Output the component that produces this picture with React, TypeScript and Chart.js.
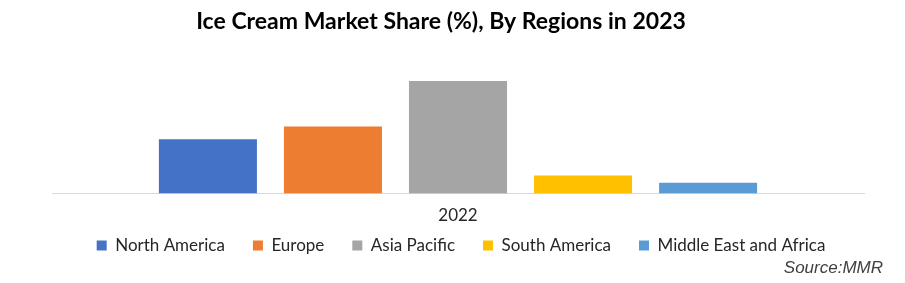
import React, { useEffect, useRef } from "react";
import { Chart, registerables } from "chart.js";

Chart.register(...registerables);

const TITLE = "Ice Cream Market Share (%), By Regions in 2023";
const SOURCE = "Source:MMR";
const categories = ["2022"];
const regions = ["North America", "Europe", "Asia Pacific", "South America", "Middle East and Africa"];
const shares = [18.9, 23.4, 39.2, 6.3, 3.8];
const colors = ["#4472C4", "#ED7D31", "#A5A5A5", "#FFC000", "#5B9BD5"];

const LEGEND_PAD = 28;

const overlay = {
  id: "overlay",
  afterLayout(chart: any) {
    const lg = chart.legend;
    if (lg) {
      lg.top -= 29;
      lg.bottom -= 29;
      lg.left += 3;
      lg.right += 3;
    }
  },
  afterDraw(chart: any) {
    const ctx = chart.ctx;
    ctx.save();
    ctx.fillStyle = "#000000";
    let size = 22;
    ctx.font = `bold ${size}px Lato`;
    const w = ctx.measureText(TITLE).width;
    size = (size * 490) / w;
    ctx.font = `bold ${size}px Lato`;
    ctx.textAlign = "center";
    ctx.textBaseline = "middle";
    ctx.fillText(TITLE, 441, 22);
    ctx.font = 'italic 17px "Liberation Sans"';
    ctx.fillStyle = "#404040";
    ctx.textAlign = "right";
    ctx.fillText(SOURCE, 883, 268);
    ctx.restore();
  },
};

export default function App() {
  const ref = useRef<HTMLCanvasElement | null>(null);
  useEffect(() => {
    if (!ref.current) return;
    const chart = new Chart(ref.current, {
      type: "bar",
      data: {
        labels: categories,
        datasets: regions.map((r, i) => ({
          label: r,
          data: [shares[i]],
          backgroundColor: colors[i],
          borderWidth: 0,
          categoryPercentage: 0.77,
          barPercentage: 0.784,
        })),
      },
      options: {
        responsive: false,
        animation: false,
        devicePixelRatio: 1,
        layout: { padding: { top: 50, left: 52, right: 41, bottom: -10 } },
        scales: {
          x: {
            grid: { display: false, drawTicks: false },
            border: { display: true, color: "#D9D9D9", width: 1 },
            ticks: { color: "#262626", font: { family: "Lato", size: 17 }, padding: 12 },
          },
          y: {
            display: false,
            min: 0,
            max: 50,
          },
        },
        plugins: {
          title: { display: false },
          tooltip: { enabled: false },
          legend: {
            position: "bottom",
            labels: {
              boxWidth: 10,
              boxHeight: 10,
              padding: LEGEND_PAD,
              color: "#262626",
              font: { family: "Lato", size: 17 },
            },
          },
        },
      },
      plugins: [overlay],
    });
    return () => chart.destroy();
  }, []);
  return (
    <div style={{ position: "fixed", left: 0, top: 0, width: 905, height: 283, background: "#fff" }}>
      <canvas ref={ref} width={905} height={283} />
    </div>
  );
}
